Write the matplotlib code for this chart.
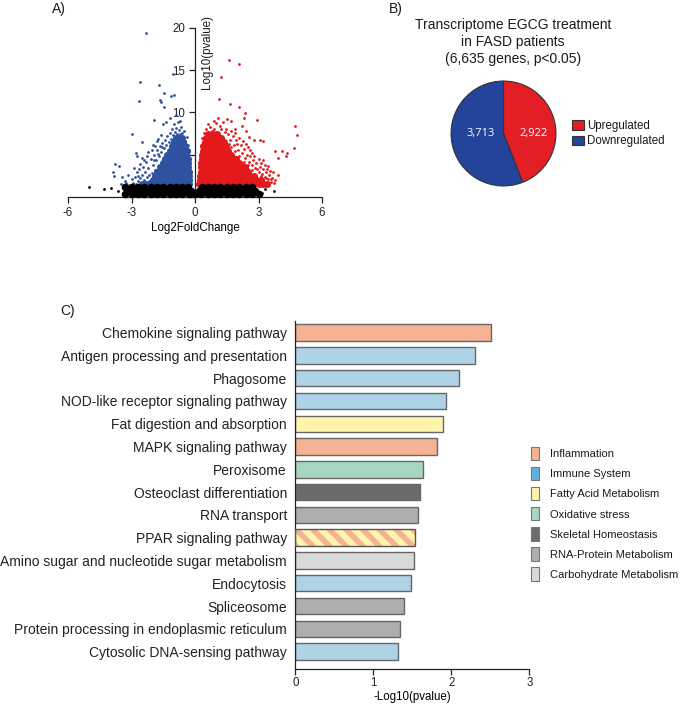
import numpy as np
import matplotlib
matplotlib.use('Agg')
import matplotlib.pyplot as plt
from matplotlib.patches import Patch

plt.rcParams['font.family'] = ['Liberation Sans', 'DejaVu Sans']
plt.rcParams['axes.unicode_minus'] = False
plt.rcParams['text.color'] = '#1a1a1a'
plt.rcParams['axes.edgecolor'] = '#222222'
plt.rcParams['xtick.color'] = '#222222'
plt.rcParams['ytick.color'] = '#222222'

# ---------------- A) volcano data (read off the picture) ----------------
# dense cores: one row of x positions per -log10 p level
blue_core_y = [1.5, 2.0, 2.5, 3.0, 3.5, 4.0, 4.5, 5.0, 5.5, 6.0, 6.5, 7.0]
blue_core_x = [
    [-2.5, -2.3, -2.1, -1.9, -1.7, -1.5, -1.3, -1.1, -0.9, -0.7, -0.5, -0.3],
    [-2.0, -1.8, -1.6, -1.4, -1.2, -1.0, -0.8, -0.6, -0.4, -0.27],
    [-1.9, -1.7, -1.5, -1.3, -1.1, -0.9, -0.7, -0.5, -0.3],
    [-1.8, -1.6, -1.4, -1.2, -1.0, -0.8, -0.6, -0.4, -0.28],
    [-1.65, -1.5, -1.3, -1.1, -0.9, -0.7, -0.5, -0.32],
    [-1.5, -1.35, -1.2, -1.0, -0.8, -0.6, -0.4, -0.32],
    [-1.4, -1.25, -1.1, -0.9, -0.7, -0.5, -0.35],
    [-1.3, -1.15, -1.0, -0.8, -0.6, -0.42],
    [-1.2, -1.05, -0.9, -0.7, -0.5, -0.38],
    [-1.1, -0.95, -0.8, -0.6, -0.45],
    [-1.0, -0.85, -0.7, -0.55],
    [-0.9, -0.75, -0.6],
]
blue_pts = [
    (-3.25, 1.6), (-3.1, 1.4), (-3.0, 2.1), (-2.95, 1.7), (-2.85, 2.4), (-2.8, 1.5),
    (-2.75, 2.9), (-2.7, 1.9), (-2.65, 3.3), (-2.6, 2.2), (-2.55, 1.6), (-2.5, 2.6),
    (-2.45, 3.6), (-2.4, 2.0), (-2.35, 3.0), (-2.3, 4.1), (-2.25, 2.4), (-2.2, 3.4),
    (-2.15, 1.9), (-2.1, 4.5), (-2.05, 2.8), (-2.0, 3.8), (-1.95, 5.0), (-1.9, 3.2),
    (-1.85, 4.4), (-1.8, 5.6), (-1.75, 2.6), (-1.7, 4.8), (-1.65, 6.0), (-1.6, 5.3),
    (-1.55, 6.4), (-1.5, 4.6), (-1.45, 5.8), (-1.4, 6.8), (-1.35, 6.1), (-1.3, 7.2),
    (-1.25, 6.5), (-1.2, 7.6), (-1.15, 6.9), (-1.1, 8.0), (-1.05, 7.3), (-1.0, 8.6),
    (-0.95, 7.7), (-0.9, 8.2), (-0.85, 7.5), (-0.8, 8.9), (-0.75, 7.9), (-0.7, 7.4),
    (-0.65, 8.3), (-0.6, 7.6), (-0.55, 7.0), (-0.5, 7.8), (-0.45, 6.6), (-0.4, 7.1),
    (-0.35, 6.2), (-0.3, 5.6), (-0.27, 4.4), (-2.2, 5.3), (-1.8, 6.6), (-2.5, 4.6),
    (-1.6, 7.3), (-2.0, 6.2), (-2.9, 3.4), (-2.6, 3.9), (-2.4, 4.4), (-2.25, 4.9),
    (-2.05, 5.6), (-1.9, 6.0), (-1.75, 6.9), (-3.15, 2.6), (-2.95, 1.2), (-2.7, 2.5),
    (-2.35, 1.7), (-2.15, 2.6), (-1.95, 4.4), (-1.75, 5.1), (-1.55, 5.9),
    (-2.33, 19.4), (-2.6, 13.6), (-2.63, 11.4), (-1.71, 13.3), (-1.45, 12.3),
    (-0.98, 12.1), (-1.13, 11.9), (-1.02, 14.5), (-1.65, 11.5), (-1.59, 11.2),
    (-1.48, 10.6), (-2.96, 7.5), (-2.77, 5.2), (-2.75, 4.8), (-3.77, 3.9),
    (-3.58, 3.7), (-3.88, 2.9), (-3.85, 2.5), (-3.44, 2.4), (-1.96, 9.1),
    (-2.5, 6.5), (-3.3, 1.9), (-3.5, 1.5), (-1.2, 9.4), (-0.9, 9.7), (-0.7, 9.0),
    (-1.5, 8.6), (-1.35, 8.9),
]

red_core_y = [1.5, 2.0, 2.5, 3.0, 3.5, 4.0, 4.5, 5.0, 5.5, 6.0, 6.5, 7.0, 7.4]
red_core_x = [
    [0.2, 0.4, 0.6, 0.8, 1.0, 1.2, 1.4, 1.6, 1.8, 2.0, 2.2, 2.4, 2.6, 2.8, 3.0, 3.2, 3.4],
    [0.22, 0.3, 0.5, 0.7, 0.9, 1.1, 1.3, 1.5, 1.7, 1.9, 2.1, 2.3, 2.5, 2.7, 2.9, 3.1],
    [0.24, 0.4, 0.6, 0.8, 1.0, 1.2, 1.4, 1.6, 1.8, 2.0, 2.2, 2.4, 2.6, 2.8],
    [0.26, 0.4, 0.5, 0.7, 0.9, 1.1, 1.3, 1.5, 1.7, 1.9, 2.1, 2.3, 2.5],
    [0.28, 0.4, 0.6, 0.8, 1.0, 1.2, 1.4, 1.6, 1.8, 2.0, 2.2, 2.35],
    [0.3, 0.5, 0.7, 0.9, 1.1, 1.3, 1.5, 1.7, 1.9, 2.1],
    [0.32, 0.4, 0.6, 0.8, 1.0, 1.2, 1.4, 1.6, 1.8, 1.95],
    [0.34, 0.5, 0.7, 0.9, 1.1, 1.3, 1.5, 1.7],
    [0.37, 0.5, 0.6, 0.8, 1.0, 1.2, 1.4, 1.55],
    [0.4, 0.5, 0.7, 0.9, 1.1, 1.3, 1.45],
    [0.45, 0.6, 0.8, 1.0, 1.2, 1.35],
    [0.5, 0.7, 0.9, 1.1, 1.25],
    [0.6, 0.85, 1.05],
]
red_pts = [
    (0.5, 8.0), (0.7, 8.3), (0.6, 8.6), (0.9, 8.1), (1.0, 8.8), (1.2, 8.4), (1.3, 8.9),
    (1.45, 8.0), (1.55, 7.4), (1.7, 7.8), (1.65, 6.8), (1.8, 7.2), (1.85, 6.2),
    (1.95, 6.7), (2.05, 5.6), (2.15, 6.1), (2.2, 5.2), (2.3, 5.7), (2.35, 4.6),
    (2.45, 5.0), (2.55, 4.2), (2.6, 4.8), (2.7, 3.8), (2.75, 4.4), (2.85, 3.4),
    (2.9, 4.0), (3.0, 3.0), (3.05, 3.6), (3.15, 2.7), (3.2, 3.3), (3.3, 2.4),
    (3.35, 2.9), (3.45, 2.1), (3.5, 2.6), (3.6, 1.8), (3.65, 2.3), (3.75, 1.6),
    (3.8, 2.0), (3.9, 2.6), (3.55, 3.1), (3.3, 3.8), (3.0, 4.5), (2.6, 5.6),
    (2.4, 6.3), (2.1, 7.0), (1.9, 7.6), (2.7, 5.2), (3.1, 4.0), (3.4, 3.3),
    (3.7, 2.9), (2.2, 4.0), (2.5, 3.3), (2.9, 2.5), (3.2, 2.0), (2.0, 4.4), (1.8, 5.0),
    (1.7, 5.9), (1.9, 5.4), (2.1, 4.8), (2.3, 4.2), (2.5, 3.8), (2.7, 3.2), (2.95, 3.3),
    (3.1, 2.5), (3.35, 2.2), (3.6, 2.1), (1.6, 6.3), (2.0, 6.3), (2.25, 6.6),
    (2.5, 5.9), (2.8, 4.9), (3.2, 4.4), (3.45, 3.7), (0.35, 7.0), (0.42, 7.6),
    (1.4, 7.7), (1.25, 8.1), (0.8, 7.8),
    (1.6, 16.2), (2.09, 15.7), (1.23, 14.2), (1.13, 11.6), (1.64, 11.0), (2.1, 10.6),
    (2.37, 9.9), (2.3, 9.3), (2.92, 9.1), (4.73, 8.4), (4.81, 7.3), (4.67, 5.8),
    (4.29, 4.85), (4.34, 5.2), (4.1, 5.4), (3.8, 5.4), (3.9, 4.6), (3.07, 6.8),
    (3.22, 6.6), (2.8, 6.7), (2.53, 7.1), (1.9, 8.1), (1.5, 9.2), (1.7, 9.0),
    (2.4, 7.8), (2.2, 8.4), (0.9, 9.0), (1.1, 9.3),
]

black_core_y = [0.3, 0.75, 1.2]
black_core_x = [
    [-3.3, -3.0, -2.7, -2.4, -2.1, -1.8, -1.5, -1.2, -0.9, -0.6, -0.3, 0.0,
     0.3, 0.6, 0.9, 1.2, 1.5, 1.8, 2.1, 2.4, 2.7, 3.0],
    [-3.15, -2.85, -2.55, -2.25, -1.95, -1.65, -1.35, -1.05, -0.75, -0.45, -0.2,
     0.2, 0.45, 0.75, 1.05, 1.35, 1.65, 1.95, 2.25, 2.55, 2.85],
    [-3.3, -3.0, -2.7, -2.4, -2.1, -1.8, -1.5, -1.2, -0.9, -0.6, -0.35,
     0.35, 0.6, 0.9, 1.2, 1.5, 1.8, 2.1, 2.4, 2.7],
]
black_pts = [(-5.0, 1.15), (-4.28, 0.95), (-3.96, 1.1), (-3.66, 0.75),
             (3.74, 0.75), (3.3, 0.9), (3.15, 0.5), (3.0, 0.4)]

# ---------------- B) pie data ----------------
pie_labels = ['Upregulated', 'Downregulated']
pie_counts = [2922, 3713]
pie_colors = ['#E31E24', '#23449A']

# ---------------- C) KEGG pathways ----------------
pathways = ['Chemokine signaling pathway', 'Antigen processing and presentation',
            'Phagosome', 'NOD-like receptor signaling pathway',
            'Fat digestion and absorption', 'MAPK signaling pathway', 'Peroxisome',
            'Osteoclast differentiation', 'RNA transport', 'PPAR signaling pathway',
            'Amino sugar and nucleotide sugar metabolism', 'Endocytosis',
            'Spliceosome', 'Protein processing in endoplasmic reticulum',
            'Cytosolic DNA-sensing pathway']
neg_log_p = [2.51, 2.31, 2.10, 1.93, 1.90, 1.82, 1.64, 1.60, 1.57, 1.54,
             1.52, 1.48, 1.39, 1.34, 1.32]
groups = ['Inflammation', 'Immune System', 'Immune System', 'Immune System',
          'Fatty Acid Metabolism', 'Inflammation', 'Oxidative stress',
          'Skeletal Homeostasis', 'RNA-Protein Metabolism', 'Inflammation+Fatty',
          'Carbohydrate Metabolism', 'Immune System', 'RNA-Protein Metabolism',
          'RNA-Protein Metabolism', 'Immune System']
group_names = ['Inflammation', 'Immune System', 'Fatty Acid Metabolism',
               'Oxidative stress', 'Skeletal Homeostasis', 'RNA-Protein Metabolism',
               'Carbohydrate Metabolism']
bar_colors = ['#F6B394', '#AED3E7', '#FFF4AB', '#A5D6BF', '#6B6B6B', '#AEAEAE', '#D9D9D9']
legend_colors = ['#F6B394', '#62B1DD', '#FFF4AB', '#A5D6BF', '#6B6B6B', '#AEAEAE', '#D9D9D9']


def flatten(ys, xs):
    px, py = [], []
    for y, row in zip(ys, xs):
        px += row
        py += [y] * len(row)
    return px, py


fig = plt.figure(figsize=(6.85, 7.04), dpi=100)
W, H = 685, 704

# ---------------- A) volcano ----------------
ax = fig.add_axes([68 / W, 1 - 197 / H, 254 / W, 169 / H])
red, blue = '#E3191C', '#2F52A0'
bx, by = flatten(blue_core_y, blue_core_x)
ax.scatter(bx, by, s=26, color=blue, linewidths=0, zorder=3)
ax.scatter([p[0] for p in blue_pts], [p[1] for p in blue_pts], s=4, color=blue,
           linewidths=0, zorder=3)
rx, ry = flatten(red_core_y, red_core_x)
ax.scatter(rx, ry, s=26, color=red, linewidths=0, zorder=3)
ax.scatter([p[0] for p in red_pts], [p[1] for p in red_pts], s=4, color=red,
           linewidths=0, zorder=3)
kx, ky = flatten(black_core_y, black_core_x)
ax.scatter(kx, ky, s=30, color='black', linewidths=0, zorder=4, clip_on=False)
ax.scatter([p[0] for p in black_pts], [p[1] for p in black_pts], s=4, color='black',
           linewidths=0, zorder=4)

ax.set_xlim(-6, 6)
ax.set_ylim(0, 20)
ax.spines['top'].set_visible(False)
ax.spines['right'].set_visible(False)
ax.spines['left'].set_position(('data', 0))
for sp in ax.spines.values():
    sp.set_linewidth(0.9)
ax.set_xticks([-6, -3, 0, 3, 6])
ax.set_yticks([0, 5, 10, 15, 20])
ax.set_yticklabels(['', '5', '10', '15', '20'])
ax.tick_params(axis='both', length=4, width=0.9, labelsize=8.3, pad=3)
ax.yaxis.set_zorder(1)
ax.set_xlabel('Log2FoldChange', fontsize=8.3, labelpad=2)
ax.text(0.57, 17.2, 'Log10(pvalue)', rotation=90, ha='center', va='center',
        fontsize=8.3)

# ---------------- B) pie ----------------
total = sum(pie_counts)
axp = fig.add_axes([450 / W, 1 - 187 / H, 107 / W, 107 / H])
wedges, texts, autotexts = axp.pie(
    pie_counts, colors=pie_colors, startangle=90, counterclock=False,
    wedgeprops=dict(edgecolor='#333333', linewidth=0.8),
    autopct=lambda p: f'{p * total / 100:,.0f}',
    textprops=dict(color='white', fontsize=8, family='Open Sans'))
autotexts[0].set_position((0.58, 0.0))
autotexts[1].set_position((-0.44, 0.0))
axp.set_xlim(-1.02, 1.02)
axp.set_ylim(-1.02, 1.02)
fig.text(513 / W, 1 - 42 / H,
         'Transcriptome EGCG treatment\nin FASD patients\n(6,635 genes, p<0.05)',
         ha='center', va='center', fontsize=10, linespacing=1.25)
fig.legend(handles=[Patch(facecolor=c, edgecolor='#333333', linewidth=0.8)
                    for c in pie_colors],
           labels=pie_labels, loc='upper left', bbox_to_anchor=(572 / W, 1 - 120 / H),
           frameon=False, fontsize=8.3, handlelength=1.0, handleheight=0.9,
           handletextpad=0.3, labelspacing=0.3, borderpad=0, borderaxespad=0)

# ---------------- C) bars ----------------
axb = fig.add_axes([295.3 / W, 1 - 669 / H, 234 / W, 348.3 / H])
ypos = np.arange(len(pathways))
for i, (v, g) in enumerate(zip(neg_log_p, groups)):
    if g == 'Inflammation+Fatty':
        plt.rcParams['hatch.linewidth'] = 4.0
        axb.barh(i, v, height=0.72, color='#FFF4AB', edgecolor='#F6B394',
                 hatch='\\\\', linewidth=0, zorder=2)
        axb.barh(i, v, height=0.72, fill=False, edgecolor='#555555',
                 linewidth=1.0, zorder=3)
    else:
        axb.barh(i, v, height=0.72, color=bar_colors[group_names.index(g)],
                 edgecolor='#666666', linewidth=1.0, zorder=2)
axb.set_xlim(0, 3)
axb.set_ylim(14.76, -0.52)
axb.set_yticks(ypos)
axb.set_yticklabels(pathways, fontsize=10)
axb.tick_params(axis='y', length=0, pad=6)
axb.set_xticks([0, 1, 2, 3])
axb.tick_params(axis='x', length=4, width=0.9, labelsize=8.3, pad=2)
axb.spines['top'].set_visible(False)
axb.spines['right'].set_visible(False)
for sp in axb.spines.values():
    sp.set_linewidth(0.9)
axb.set_xlabel('-Log10(pvalue)', fontsize=8.3, labelpad=1.5)

fig.legend(handles=[Patch(facecolor=c, edgecolor='#777777', linewidth=0.8)
                    for c in legend_colors],
           labels=group_names, loc='upper left', bbox_to_anchor=(531 / W, 1 - 447 / H),
           frameon=False, fontsize=8, handlelength=0.72, handleheight=1.45,
           handletextpad=1.0, labelspacing=0.62, borderpad=0, borderaxespad=0)

fig.text(52 / W, 1 - 9 / H, 'A)', ha='left', va='center', fontsize=10)
fig.text(389 / W, 1 - 9 / H, 'B)', ha='left', va='center', fontsize=10)
fig.text(60 / W, 1 - 311 / H, 'C)', ha='left', va='center', fontsize=10)

fig.savefig('out.png', dpi=100)
